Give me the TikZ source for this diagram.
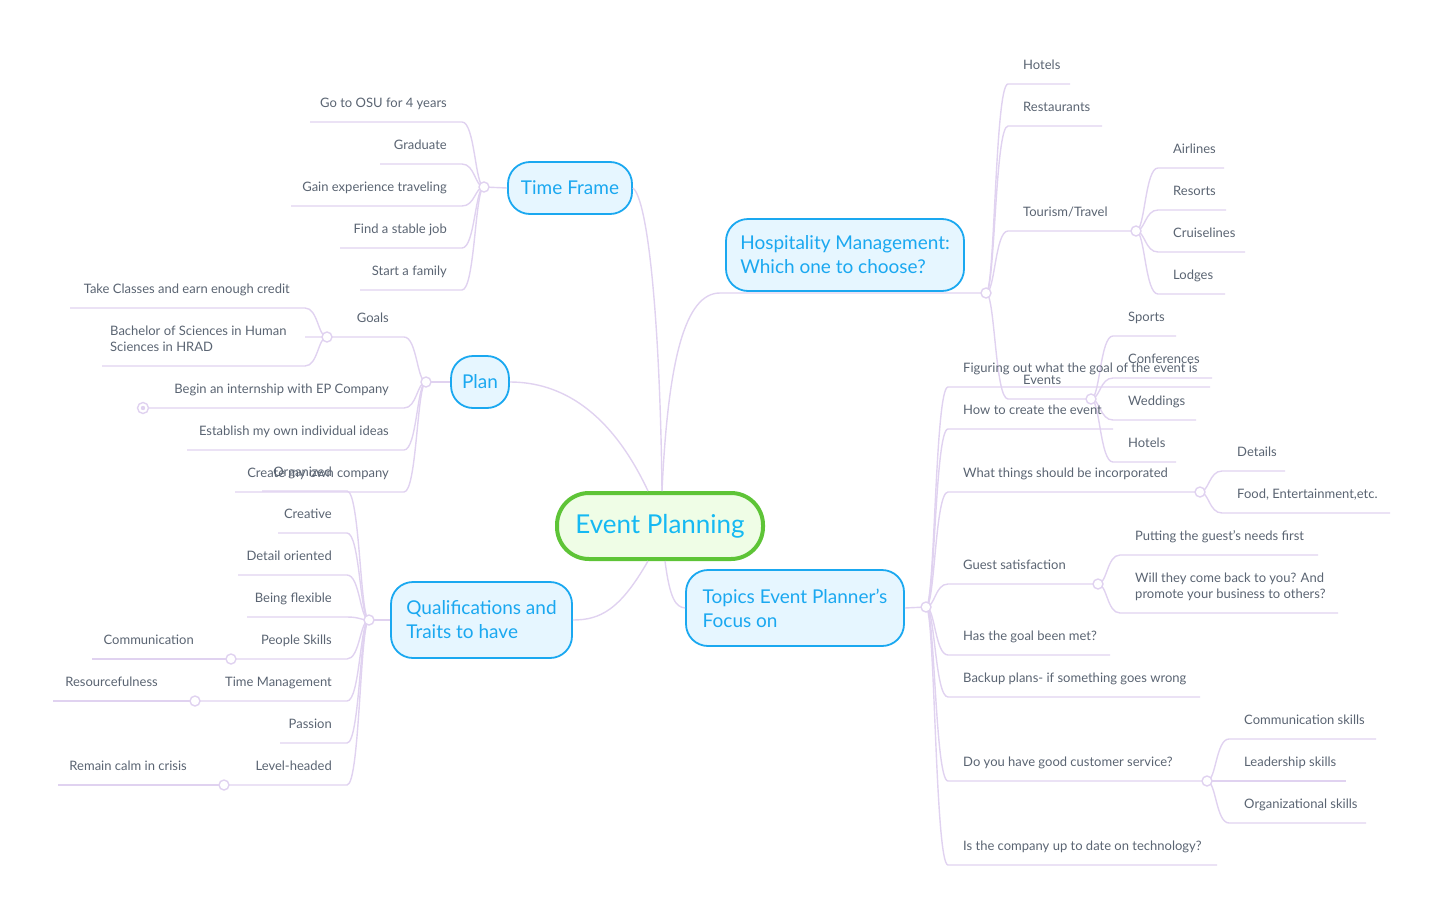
\documentclass[tikz,border=0pt]{standalone}
\usepackage{fontspec}
\setmainfont{Lato}
\begin{document}
\definecolor{ln}{HTML}{E0D2F0}
\definecolor{tx}{HTML}{5A6472}
\definecolor{tb}{HTML}{1AA8F0}
\definecolor{tf}{HTML}{E6F6FF}
\definecolor{cg}{HTML}{5EC437}
\definecolor{cf}{HTML}{EFFDE6}
\begin{tikzpicture}[x=1pt,y=-1pt,
 conn/.style={draw=ln,line width=1.4pt},
 junc/.style={circle,draw=ln,line width=1.4pt,fill=white,inner sep=0,minimum size=10pt},
 leaf/.style={inner sep=0,text=tx,font=\fontsize{13}{16}\selectfont,text depth=3.5pt},
 topic/.style={draw=tb,line width=1.8pt,fill=tf,rounded corners=22pt,text=tb,font=\fontsize{19}{24}\selectfont,align=left,inner xsep=13pt,inner ysep=9pt}]
\useasboundingbox (0,0) rectangle (1439,913);
% leaf macros: name, jx, jy, line y, line end x, text
\newcommand\LL[6]{\draw[conn] (#2,#3) .. controls (#2-9,#3) and (#2-9,#4) .. (#2-22,#4) -- (#5,#4);
 \node[leaf,anchor=south east] (#1) at (#2-37,#4-11) {#6};}
\newcommand\RR[6]{\draw[conn] (#2,#3) .. controls (#2+9,#3) and (#2+9,#4) .. (#2+22,#4) -- (#5,#4);
 \node[leaf,anchor=south west,align=left] (#1) at (#2+37,#4-11) {#6};}
% central
\node[draw=cg,line width=4pt,fill=cf,rounded corners=32pt,minimum width=206pt,minimum height=66pt,text=tb!80!cyan,font=\fontsize{26}{30}\selectfont] (C) at (660,526) {Event Planning};
\node[topic,minimum height=52pt] (TF) at (570,188) {Time Frame};
\node[topic,minimum height=52pt,inner xsep=11pt] (PL) at (480,382) {Plan};
\node[topic,minimum width=181pt,minimum height=76pt] (QU) at (481.5,620) {Qualifications and\\Traits to have};
\node[topic,minimum width=238pt,minimum height=72pt] (HO) at (845,255) {Hospitality Management:\\Which one to choose?};
\node[topic,minimum width=218pt,minimum height=76pt] (TO) at (795,608) {Topics Event Planner's\\Focus on};
% junctions
\coordinate (jTF) at (484,187);
\coordinate (jPL) at (426,382);
\coordinate (jQU) at (369,620);
\coordinate (jHO) at (986,293);
\coordinate (jTO) at (926,607);
\coordinate (hA) at (720,293);
% center connectors
\begin{scope}[on background layer/.style={}]
\draw[conn] (C.north) ++(2,0) .. controls (660,320) and (648,200) .. (TF.east);
\draw[conn] (C.north) ++(2,0) .. controls (668,360) and (685,293) .. (hA) -- (jHO);
\draw[conn] (C.north) ++(-12,0) .. controls (610,410) and (560,382) .. (PL.east);
\draw[conn] (C.south) ++(-12,0) .. controls (620,610) and (600,620) .. (QU.east);
\draw[conn] (C.south) ++(5,0) .. controls (670,600) and (676,607) .. (TO.west);
\draw[conn] (TF.west) -- (jTF);
\draw[conn] (PL.west) -- (jPL);
\draw[conn] (QU.west) -- (jQU);
\draw[conn] (TO.east) -- (jTO);
\end{scope}
% Time Frame
\LL{a1}{484}{187}{122}{310}{Go to OSU for 4 years}
\LL{a2}{484}{187}{164}{380}{Graduate}
\LL{a3}{484}{187}{206}{291}{Gain experience traveling}
\LL{a4}{484}{187}{248}{340}{Find a stable job}
\LL{a5}{484}{187}{290}{360}{Start a family}
% Plan
\LL{b1}{426}{382}{337}{305}{Goals}
\LL{b2}{426}{382}{408}{143}{Begin an internship with EP Company}
\LL{b3}{426}{382}{450}{187}{Establish my own individual ideas}
\LL{b4}{426}{382}{492}{235}{Create my own company}
\LL{b11}{327}{337}{308}{70}{Take Classes and earn enough credit}
\draw[conn] (327,337) .. controls (318,337) and (318,366) .. (305,366) -- (102,366);
\node[leaf,anchor=south west,align=left] (b12) at (110,355) {Bachelor of Sciences in Human\\Sciences in HRAD};
\node[junc,minimum size=11pt] (b2c) at (143,408) {};
\fill[ln] (b2c) circle (2.2pt);
% Qualifications
\LL{q1}{369}{620}{491}{262}{Organized}
\LL{q2}{369}{620}{533}{278}{Creative}
\LL{q3}{369}{620}{575}{238}{Detail oriented}
\LL{q4}{369}{620}{617}{247}{Being flexible}
\LL{q5}{369}{620}{659}{231}{People Skills}
\LL{q6}{369}{620}{701}{195}{Time Management}
\LL{q7}{369}{620}{743}{280}{Passion}
\LL{q8}{369}{620}{785}{224}{Level-headed}
\LL{q51}{231}{659}{659}{92}{Communication}
\LL{q61}{195}{701}{701}{53}{Resourcefulness}
\LL{q81}{224}{785}{785}{58}{Remain calm in crisis}
% Hospitality
\RR{h1}{986}{293}{84}{1070}{Hotels}
\RR{h2}{986}{293}{126}{1102}{Restaurants}
\RR{h3}{986}{293}{231}{1136}{Tourism/Travel}
\RR{h4}{986}{293}{399}{1091}{Events}
\RR{h31}{1136}{231}{168}{1224}{Airlines}
\RR{h32}{1136}{231}{210}{1226}{Resorts}
\RR{h33}{1136}{231}{252}{1245}{Cruiselines}
\RR{h34}{1136}{231}{294}{1225}{Lodges}
\RR{h41}{1091}{399}{336}{1176}{Sports}
\RR{h42}{1091}{399}{378}{1212}{Conferences}
\RR{h43}{1091}{399}{420}{1196}{Weddings}
\RR{h44}{1091}{399}{462}{1176}{Hotels}
% Topics
\RR{t1}{926}{607}{387}{1210}{Figuring out what the goal of the event is}
\RR{t2}{926}{607}{429}{1113}{How to create the event}
\RR{t3}{926}{607}{492}{1200}{What things should be incorporated}
\RR{t4}{926}{607}{584}{1098}{Guest satisfaction}
\RR{t5}{926}{607}{655}{1110}{Has the goal been met?}
\RR{t6}{926}{607}{697}{1200}{Backup plans- if something goes wrong}
\RR{t7}{926}{607}{781}{1207}{Do you have good customer service?}
\RR{t8}{926}{607}{865}{1217}{Is the company up to date on technology?}
\RR{t31}{1200}{492}{471}{1285}{Details}
\RR{t32}{1200}{492}{513}{1390}{Food, Entertainment,etc.}
\RR{t41}{1098}{584}{555}{1318}{Putting the guest's needs first}
\RR{t42}{1098}{584}{613}{1338}{Will they come back to you? And\\promote your business to others?}
\RR{t71}{1207}{781}{739}{1376}{Communication skills}
\RR{t72}{1207}{781}{781}{1346}{Leadership skills}
\RR{t73}{1207}{781}{823}{1366}{Organizational skills}
% junction circles
\foreach \p in {(484,187),(426,382),(369,620),(327,337),(231,659),(195,701),(224,785),(986,293),(1136,231),(1091,399),(926,607),(1200,492),(1098,584),(1207,781)}
  \node[junc] at \p {};
\end{tikzpicture}
\end{document}
